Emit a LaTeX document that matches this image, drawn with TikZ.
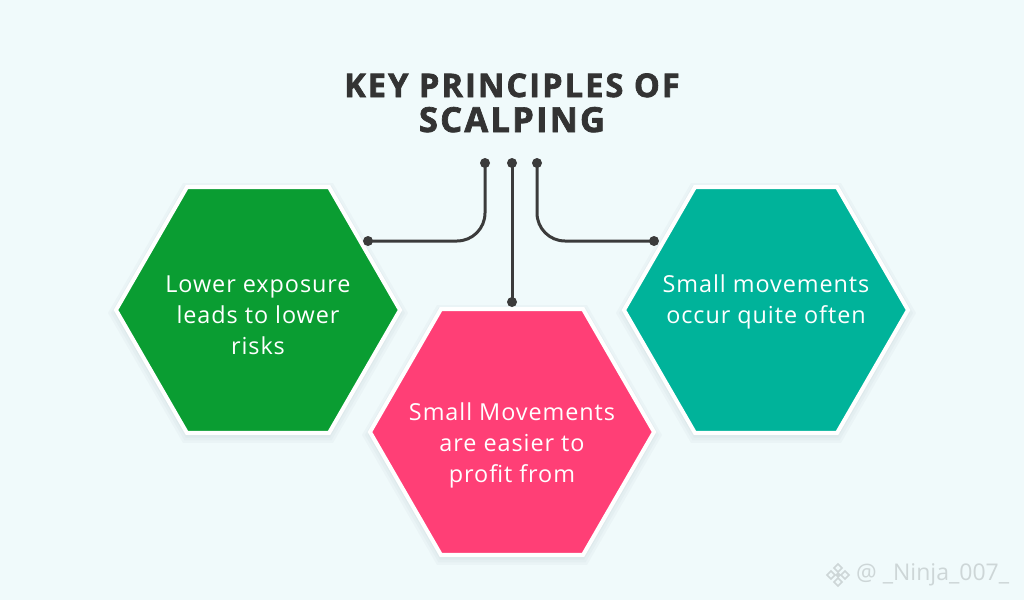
\documentclass[tikz,border=0pt]{standalone}
\usepackage{fontspec}
\setmainfont{Open Sans}
\newfontfamily\titlefam{Open Sans}[LetterSpace=6.5, FakeBold=2]
\newfontfamily\bodyfam{Open Sans}[LetterSpace=4]
\usetikzlibrary{shapes.geometric}
\definecolor{bgc}{RGB}{240,250,251}
\definecolor{titlec}{RGB}{51,51,51}
\definecolor{hgreen}{RGB}{10,157,50}
\definecolor{hteal}{RGB}{0,179,154}
\definecolor{hpink}{RGB}{255,63,118}
\definecolor{connc}{RGB}{59,59,59}
\definecolor{wmc}{RGB}{205,214,215}
\tikzset{
  hexa/.style={regular polygon, regular polygon sides=6, minimum size=284pt,
    inner sep=0pt, outer sep=0pt, draw=white, line width=4pt},
  hshadow/.style={regular polygon, regular polygon sides=6, inner sep=0pt,
    outer sep=0pt, fill=black!60!cyan, fill opacity=0.035},
  hexatext/.style={text=white, align=center, inner sep=0pt, anchor=north,
    font=\bodyfam\fontsize{23.4}{31.2}\selectfont},
  dotn/.style={circle, fill=connc, inner sep=0pt, minimum size=10pt},
  conn/.style={draw=connc, line width=3pt},
  titlestyle/.style={text=titlec, inner sep=0pt, anchor=base},
}
\begin{document}
\begin{tikzpicture}[x=1pt,y=-1pt]
\useasboundingbox (0,0) rectangle (1024,600);
\fill[bgc] (0,0) rectangle (1024,600);
% title
\node[titlestyle, font=\titlefam\bfseries\fontsize{32.5}{34}\selectfont] (t1line) at (512,97) {KEY PRINCIPLES OF};
\node[titlestyle, font=\titlefam\bfseries\fontsize{34.5}{36}\selectfont] (t2line) at (512,132) {SCALPING};
% shadows
\foreach \c in {(258,313),(766,313),(512,435)}{
  \node[hshadow, minimum size=300pt] at \c {};
  \node[hshadow, minimum size=294pt] at \c {};
  \node[hshadow, minimum size=288pt] at \c {};
}
% hexagons
\node[hexa, fill=hgreen] (g) at (258,310) {};
\node[hexa, fill=hteal] (t) at (766,310) {};
\node[hexa, fill=hpink] (p) at (512,432) {};
% texts
\node[hexatext] (gtext) at (258,275.5) {Lower exposure\\leads to lower\\risks};
\node[hexatext] (ttext) at (766,274.5) {Small movements\\occur quite often};
\node[hexatext] (ptext) at (512,402.5) {Small Movements\\are easier to\\profit from};
% connector dots
\node[dotn] (d1) at (485,163) {};
\node[dotn] (d2) at (512,163) {};
\node[dotn] (d3) at (537,163) {};
\node[dotn] (dg) at (368,241) {};
\node[dotn] (dp) at (512,302) {};
\node[dotn] (dt) at (654,241) {};
\draw[conn, rounded corners=28pt] (d1.center) |- (dg.center);
\draw[conn] (d2.center) -- (dp.center);
\draw[conn, rounded corners=28pt] (d3.center) |- (dt.center);
% watermark
\begin{scope}[shift={(838,575)}, wmc, line width=1.6pt]
  \draw (0,-11) -- (4,-7) -- (0,-3) -- (-4,-7) -- cycle;
  \draw (0,11) -- (4,7) -- (0,3) -- (-4,7) -- cycle;
  \draw (-11,0) -- (-7,4) -- (-3,0) -- (-7,-4) -- cycle;
  \draw (11,0) -- (7,4) -- (3,0) -- (7,-4) -- cycle;
  \fill (0,-3) -- (3,0) -- (0,3) -- (-3,0) -- cycle;
\end{scope}
\node[text=wmc, font=\fontsize{23}{26}\selectfont, anchor=west, inner sep=0pt] (wm) at (856,575) {@ \_Ninja\_007\_};
\end{tikzpicture}
\end{document}
